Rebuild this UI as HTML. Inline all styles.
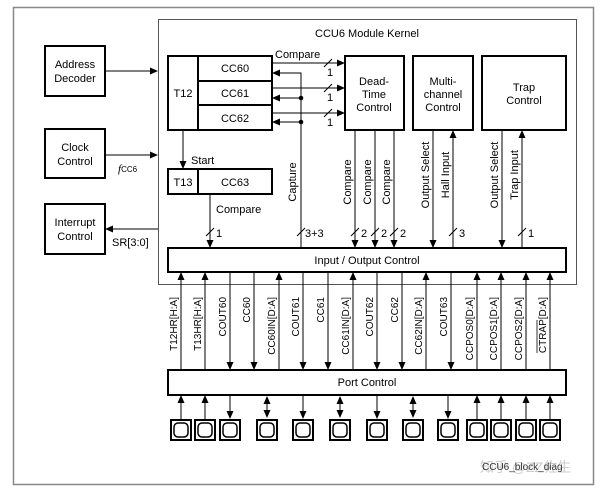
<!DOCTYPE html>
<html><head><meta charset="utf-8"><style>
html,body{margin:0;padding:0;background:#fff;}
svg{display:block;font-family:"Liberation Sans",sans-serif;}
</style></head><body>
<svg width="600" height="490" viewBox="0 0 600 490" xmlns="http://www.w3.org/2000/svg">
<defs>
<marker id="a" markerWidth="8" markerHeight="8" refX="7" refY="4" orient="auto" markerUnits="userSpaceOnUse"><path d="M0,0.5 L8,4 L0,7.5 z" fill="#000"/></marker>
<marker id="s" markerWidth="8" markerHeight="8" refX="1" refY="4" orient="auto" markerUnits="userSpaceOnUse"><path d="M8,0.5 L0,4 L8,7.5 z" fill="#000"/></marker>
</defs>
<rect x="13.5" y="7.5" width="580" height="477" fill="none" stroke="#888" stroke-width="1.5"/>
<rect x="158.5" y="19.5" width="418" height="265" fill="none" stroke="#555" stroke-width="1"/>
<g font-size="11" text-anchor="middle" fill="#000">
<text x="367" y="37">CCU6 Module Kernel</text>
</g>
<g fill="none" stroke="#000" stroke-width="2">
<rect x="45" y="46" width="60" height="50"/>
<rect x="45" y="129" width="60" height="49"/>
<rect x="45" y="204" width="60" height="50"/>
<rect x="168" y="56" width="30" height="74"/>
<rect x="198" y="56" width="74" height="25"/>
<rect x="198" y="81" width="74" height="24"/>
<rect x="198" y="105" width="74" height="25"/>
<rect x="345" y="56" width="59" height="74"/>
<rect x="413" y="56" width="60" height="74"/>
<rect x="482" y="56" width="84" height="74"/>
<rect x="168" y="169" width="30" height="25"/>
<rect x="198" y="169" width="74" height="25"/>
<rect x="168" y="248" width="398" height="24"/>
<rect x="168" y="370" width="398" height="25"/>
</g>
<g font-size="11" text-anchor="middle">
<text x="75" y="68">Address</text><text x="75" y="82">Decoder</text>
<text x="75" y="151">Clock</text><text x="75" y="165">Control</text>
<text x="75" y="226">Interrupt</text><text x="75" y="240">Control</text>
<text x="183" y="97">T12</text>
<text x="235" y="72">CC60</text><text x="235" y="97">CC61</text><text x="235" y="122">CC62</text>
<text x="374" y="85">Dead-</text><text x="374" y="98">Time</text><text x="374" y="111">Control</text>
<text x="443" y="85">Multi-</text><text x="443" y="98">channel</text><text x="443" y="111">Control</text>
<text x="524" y="91">Trap</text><text x="524" y="104">Control</text>
<text x="183" y="186">T13</text><text x="235" y="186">CC63</text>
<text x="367" y="264">Input / Output Control</text>
<text x="367" y="386">Port Control</text>
</g>
<g stroke="#000" stroke-width="1" fill="none">
<line x1="105" y1="71" x2="157" y2="71" marker-end="url(#a)"/>
<line x1="105" y1="155" x2="157" y2="155" marker-end="url(#a)"/>
<line x1="158" y1="229" x2="106" y2="229" marker-end="url(#a)"/>
<line x1="272" y1="63" x2="344" y2="63" marker-end="url(#a)"/>
<line x1="272" y1="88" x2="344" y2="88" marker-end="url(#a)"/>
<line x1="272" y1="113" x2="344" y2="113" marker-end="url(#a)"/>
<polyline points="301,248 301,73 273,73" marker-end="url(#a)"/>
<line x1="301" y1="98" x2="273" y2="98" marker-end="url(#a)"/>
<line x1="301" y1="122" x2="273" y2="122" marker-end="url(#a)"/>
<line x1="183" y1="130" x2="183" y2="168" marker-end="url(#a)"/>
<line x1="210" y1="194" x2="210" y2="247" marker-end="url(#a)"/>
<line x1="355" y1="130" x2="355" y2="247" marker-end="url(#a)"/>
<line x1="375" y1="130" x2="375" y2="247" marker-end="url(#a)"/>
<line x1="394" y1="130" x2="394" y2="247" marker-end="url(#a)"/>
<line x1="433" y1="130" x2="433" y2="247" marker-end="url(#a)"/>
<line x1="453" y1="248" x2="453" y2="131" marker-end="url(#a)"/>
<line x1="502" y1="130" x2="502" y2="247" marker-end="url(#a)"/>
<line x1="522" y1="248" x2="522" y2="131" marker-end="url(#a)"/>
<path d="M324,67 l8,-8 M324,92 l8,-8 M324,117 l8,-8 M206,236 l8,-8 M297,236 l8,-8 M351,236 l8,-8 M371,236 l8,-8 M390,236 l8,-8 M449,236 l8,-8 M518,236 l8,-8"/>
</g>
<circle cx="301" cy="98" r="2.3"/><circle cx="301" cy="122" r="2.3"/>
<g font-size="11">
<text x="275" y="58">Compare</text>
<text x="327" y="76">1</text><text x="327" y="101">1</text><text x="327" y="126">1</text>
<text x="191" y="164">Start</text>
<text x="216" y="213">Compare</text>
<text x="216" y="237">1</text>
<text x="305" y="237">3+3</text>
<text x="361" y="237">2</text><text x="381" y="237">2</text><text x="400" y="237">2</text>
<text x="459" y="237">3</text><text x="528" y="237">1</text>
<text x="112" y="246">SR[3:0]</text>
<text x="118" y="172" font-style="italic" font-family="Liberation Serif" font-size="11">f<tspan font-style="normal" font-family="Liberation Sans" font-size="8">CC6</tspan></text>
</g>
<g font-size="11" text-anchor="middle">
<text transform="translate(296,182) rotate(-90)">Capture</text>
<text transform="translate(351,182) rotate(-90)">Compare</text>
<text transform="translate(371,182) rotate(-90)">Compare</text>
<text transform="translate(390,182) rotate(-90)">Compare</text>
<text transform="translate(429,175) rotate(-90)">Output Select</text>
<text transform="translate(449,175) rotate(-90)">Hall Input</text>
<text transform="translate(498,175) rotate(-90)">Output Select</text>
<text transform="translate(518,175) rotate(-90)">Trap Input</text>
</g>
<g stroke="#000" stroke-width="1" fill="none">
<line x1="181" y1="370" x2="181" y2="273" marker-end="url(#a)"/>
<line x1="205" y1="370" x2="205" y2="273" marker-end="url(#a)"/>
<line x1="230" y1="272" x2="230" y2="369" marker-end="url(#a)"/>
<line x1="254" y1="272" x2="254" y2="369" marker-end="url(#a)"/>
<line x1="279" y1="370" x2="279" y2="273" marker-end="url(#a)"/>
<line x1="303" y1="272" x2="303" y2="369" marker-end="url(#a)"/>
<line x1="328" y1="272" x2="328" y2="369" marker-end="url(#a)"/>
<line x1="353" y1="370" x2="353" y2="273" marker-end="url(#a)"/>
<line x1="377" y1="272" x2="377" y2="369" marker-end="url(#a)"/>
<line x1="402" y1="272" x2="402" y2="369" marker-end="url(#a)"/>
<line x1="426" y1="370" x2="426" y2="273" marker-end="url(#a)"/>
<line x1="451" y1="272" x2="451" y2="369" marker-end="url(#a)"/>
<line x1="477" y1="370" x2="477" y2="273" marker-end="url(#a)"/>
<line x1="501" y1="370" x2="501" y2="273" marker-end="url(#a)"/>
<line x1="526" y1="370" x2="526" y2="273" marker-end="url(#a)"/>
<line x1="550" y1="370" x2="550" y2="273" marker-end="url(#a)"/>
</g>
<g font-size="10" text-anchor="end">
<text transform="translate(177,297) rotate(-90)">T12HR[H:A]</text>
<text transform="translate(201,297) rotate(-90)">T13HR[H:A]</text>
<text transform="translate(226,297) rotate(-90)">COUT60</text>
<text transform="translate(250,297) rotate(-90)">CC60</text>
<text transform="translate(275,297) rotate(-90)">CC60IN[D:A]</text>
<text transform="translate(299,297) rotate(-90)">COUT61</text>
<text transform="translate(324,297) rotate(-90)">CC61</text>
<text transform="translate(349,297) rotate(-90)">CC61IN[D:A]</text>
<text transform="translate(373,297) rotate(-90)">COUT62</text>
<text transform="translate(398,297) rotate(-90)">CC62</text>
<text transform="translate(422,297) rotate(-90)">CC62IN[D:A]</text>
<text transform="translate(447,297) rotate(-90)">COUT63</text>
<text transform="translate(473,297) rotate(-90)">CCPOS0[D:A]</text>
<text transform="translate(497,297) rotate(-90)">CCPOS1[D:A]</text>
<text transform="translate(522,297) rotate(-90)">CCPOS2[D:A]</text>
<text transform="translate(546,297) rotate(-90)">CTRAP[D:A]</text>
</g>
<line x1="537" y1="320" x2="537" y2="353" stroke="#000" stroke-width="0.8"/>
<g stroke="#000" stroke-width="1" fill="none">
<line x1="181" y1="419" x2="181" y2="396" marker-end="url(#a)"/>
<line x1="205" y1="419" x2="205" y2="396" marker-end="url(#a)"/>
<line x1="230" y1="395" x2="230" y2="418" marker-end="url(#a)"/>
<line x1="267" y1="397" x2="267" y2="417" marker-start="url(#s)" marker-end="url(#a)"/>
<line x1="303" y1="395" x2="303" y2="418" marker-end="url(#a)"/>
<line x1="340" y1="397" x2="340" y2="417" marker-start="url(#s)" marker-end="url(#a)"/>
<line x1="377" y1="395" x2="377" y2="418" marker-end="url(#a)"/>
<line x1="413" y1="397" x2="413" y2="417" marker-start="url(#s)" marker-end="url(#a)"/>
<line x1="448" y1="395" x2="448" y2="418" marker-end="url(#a)"/>
<line x1="477" y1="419" x2="477" y2="396" marker-end="url(#a)"/>
<line x1="501" y1="419" x2="501" y2="396" marker-end="url(#a)"/>
<line x1="526" y1="419" x2="526" y2="396" marker-end="url(#a)"/>
<line x1="550" y1="419" x2="550" y2="396" marker-end="url(#a)"/>
</g>
<g fill="none" stroke="#000">
<g id="p"><rect x="171" y="420" width="20" height="20" stroke-width="2"/><rect x="174" y="423" width="14" height="14" rx="4" stroke-width="1.5"/></g>
<use href="#p" x="24"/><use href="#p" x="49"/><use href="#p" x="86"/><use href="#p" x="122"/>
<use href="#p" x="159"/><use href="#p" x="196"/><use href="#p" x="232"/><use href="#p" x="267"/>
<use href="#p" x="296"/><use href="#p" x="320"/><use href="#p" x="345"/><use href="#p" x="369"/>
</g>
<text x="480" y="472" font-size="14" fill="#ccc" font-family="'Liberation Sans','Noto Sans CJK SC',sans-serif">知乎 @ZZ佐生</text>
<text x="482" y="470" font-size="10" fill="#333">CCU6_block_diag</text>
</svg>
</body></html>
